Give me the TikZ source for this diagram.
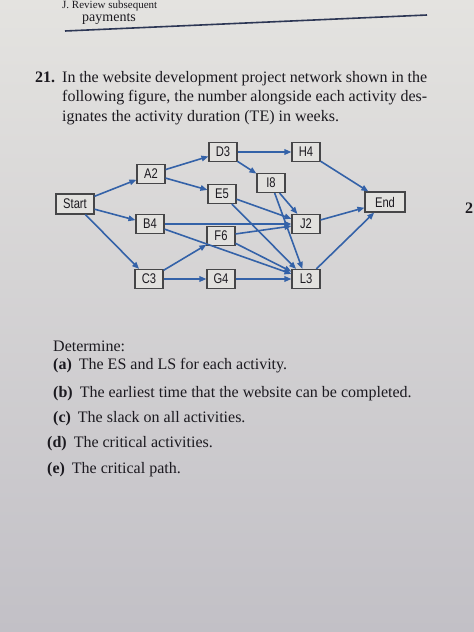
\documentclass[tikz,border=0pt]{standalone}
\usepackage{fontspec}
\setmainfont{Liberation Serif}
\newfontfamily\boxfont[FakeStretch=0.8]{Liberation Sans}
\usetikzlibrary{arrows.meta}
\definecolor{paperA}{RGB}{228,227,224}
\definecolor{paperB}{RGB}{194,192,198}
\definecolor{boxfill}{RGB}{226,225,222}
\definecolor{boxline}{RGB}{70,70,72}
\definecolor{arrowblue}{RGB}{52,98,168}
\definecolor{inkc}{RGB}{28,26,32}
\definecolor{rulec}{RGB}{45,55,85}
\begin{document}
\begin{tikzpicture}[x=1pt,y=-1pt,
  act/.style={draw=boxline, line width=1.1pt, fill=boxfill,
    font=\boxfont\fontsize{14}{14}\selectfont, text=inkc,
    minimum width=28pt, minimum height=19pt, inner sep=0pt},
  link/.style={draw=arrowblue, line width=1.6pt,
    -{Triangle[length=7pt,width=5.5pt]}},
  body/.style={font=\fontsize{16}{16}\selectfont, text=inkc,
    anchor=west, inner sep=0pt},
  bodybase/.style={body, anchor=base west},
  hdr/.style={font=\fontsize{14}{14}\selectfont, text=inkc,
    anchor=west, inner sep=0pt},
]
\useasboundingbox (0,0) rectangle (474,632);
\shade[top color=paperA, bottom color=paperB] (0,0) rectangle (474,632);

% header
\node[hdr, font=\fontsize{11}{11}\selectfont] (hdrA) at (62,5.8) {J. Review subsequent};
\node[hdr] (hdrB) at (82,19.5) {payments};
\coordinate (ruleL) at (65,31);
\coordinate (ruleR) at (427,15);
\draw[rulec, line width=1.6pt] (ruleL) -- (ruleR);

% question text
\node[bodybase] (qnum) at (35,82) {\textbf{21.}};
\node[bodybase] (q1) at (62,82)
  {\hbox to 365pt{In the website development project network shown in the}};
\node[bodybase] (q2) at (62,101)
  {\hbox to 365pt{following figure, the number alongside each activity des-}};
\node[bodybase] (q3) at (62,121)
  {ignates the activity duration (TE) in weeks.};

% network
\node[act, minimum width=38pt, minimum height=20pt] (start) at (75,204) {Start};
\node[act] (A2) at (151,174) {A2};
\node[act] (B4) at (150,224) {B4};
\node[act] (C3) at (149,279) {C3};
\node[act] (D3) at (223,152) {D3};
\node[act] (E5) at (222,194) {E5};
\node[act] (F6) at (221,236) {F6};
\node[act] (G4) at (221,279) {G4};
\node[act] (H4) at (306,152) {H4};
\node[act] (I8) at (271,183) {I8};
\node[act] (J2) at (306,224) {J2};
\node[act] (L3) at (306,279) {L3};
\node[act, minimum width=40pt, minimum height=20pt] (end) at (385,202) {End};

\draw[link] (start) -- (A2);
\draw[link] (start) -- (B4);
\draw[link] (start) -- (C3);
\draw[link] (A2) -- (D3);
\draw[link] (A2) -- (E5);
\draw[link] (C3) -- (F6);
\draw[link] (C3) -- (G4);
\draw[link] (D3) -- (H4);
\draw[link] (D3) -- (I8);
\draw[link] (E5) -- (J2);
\draw[link] (E5) -- (L3);
\draw[link] (B4) -- (J2);
\draw[link] (B4) -- (L3);
\draw[link] (F6) -- (J2);
\draw[link] (F6) -- (L3);
\draw[link] (G4) -- (L3);
\draw[link] (I8) -- (J2);
\draw[link] (I8) -- (L3);
\draw[link] (H4) -- (end);
\draw[link] (J2) -- (end);
\draw[link] (L3) -- (end);

\node[body, font=\bfseries\fontsize{16}{16}\selectfont] (edge2) at (465,208) {2};

% questions
\node[body] (det) at (53,346) {Determine:};
\node[body] (qa) at (53,366) {\textbf{(a)}\hspace{7pt}The ES and LS for each activity.};
\node[body] (qb) at (53,394) {\textbf{(b)}\hspace{7pt}The earliest time that the website can be completed.};
\node[body] (qc) at (53,419) {\textbf{(c)}\hspace{7pt}The slack on all activities.};
\node[body] (qd) at (47,444) {\textbf{(d)}\hspace{7pt}The critical activities.};
\node[body] (qe) at (47,470) {\textbf{(e)}\hspace{7pt}The critical path.};
\end{tikzpicture}
\end{document}
